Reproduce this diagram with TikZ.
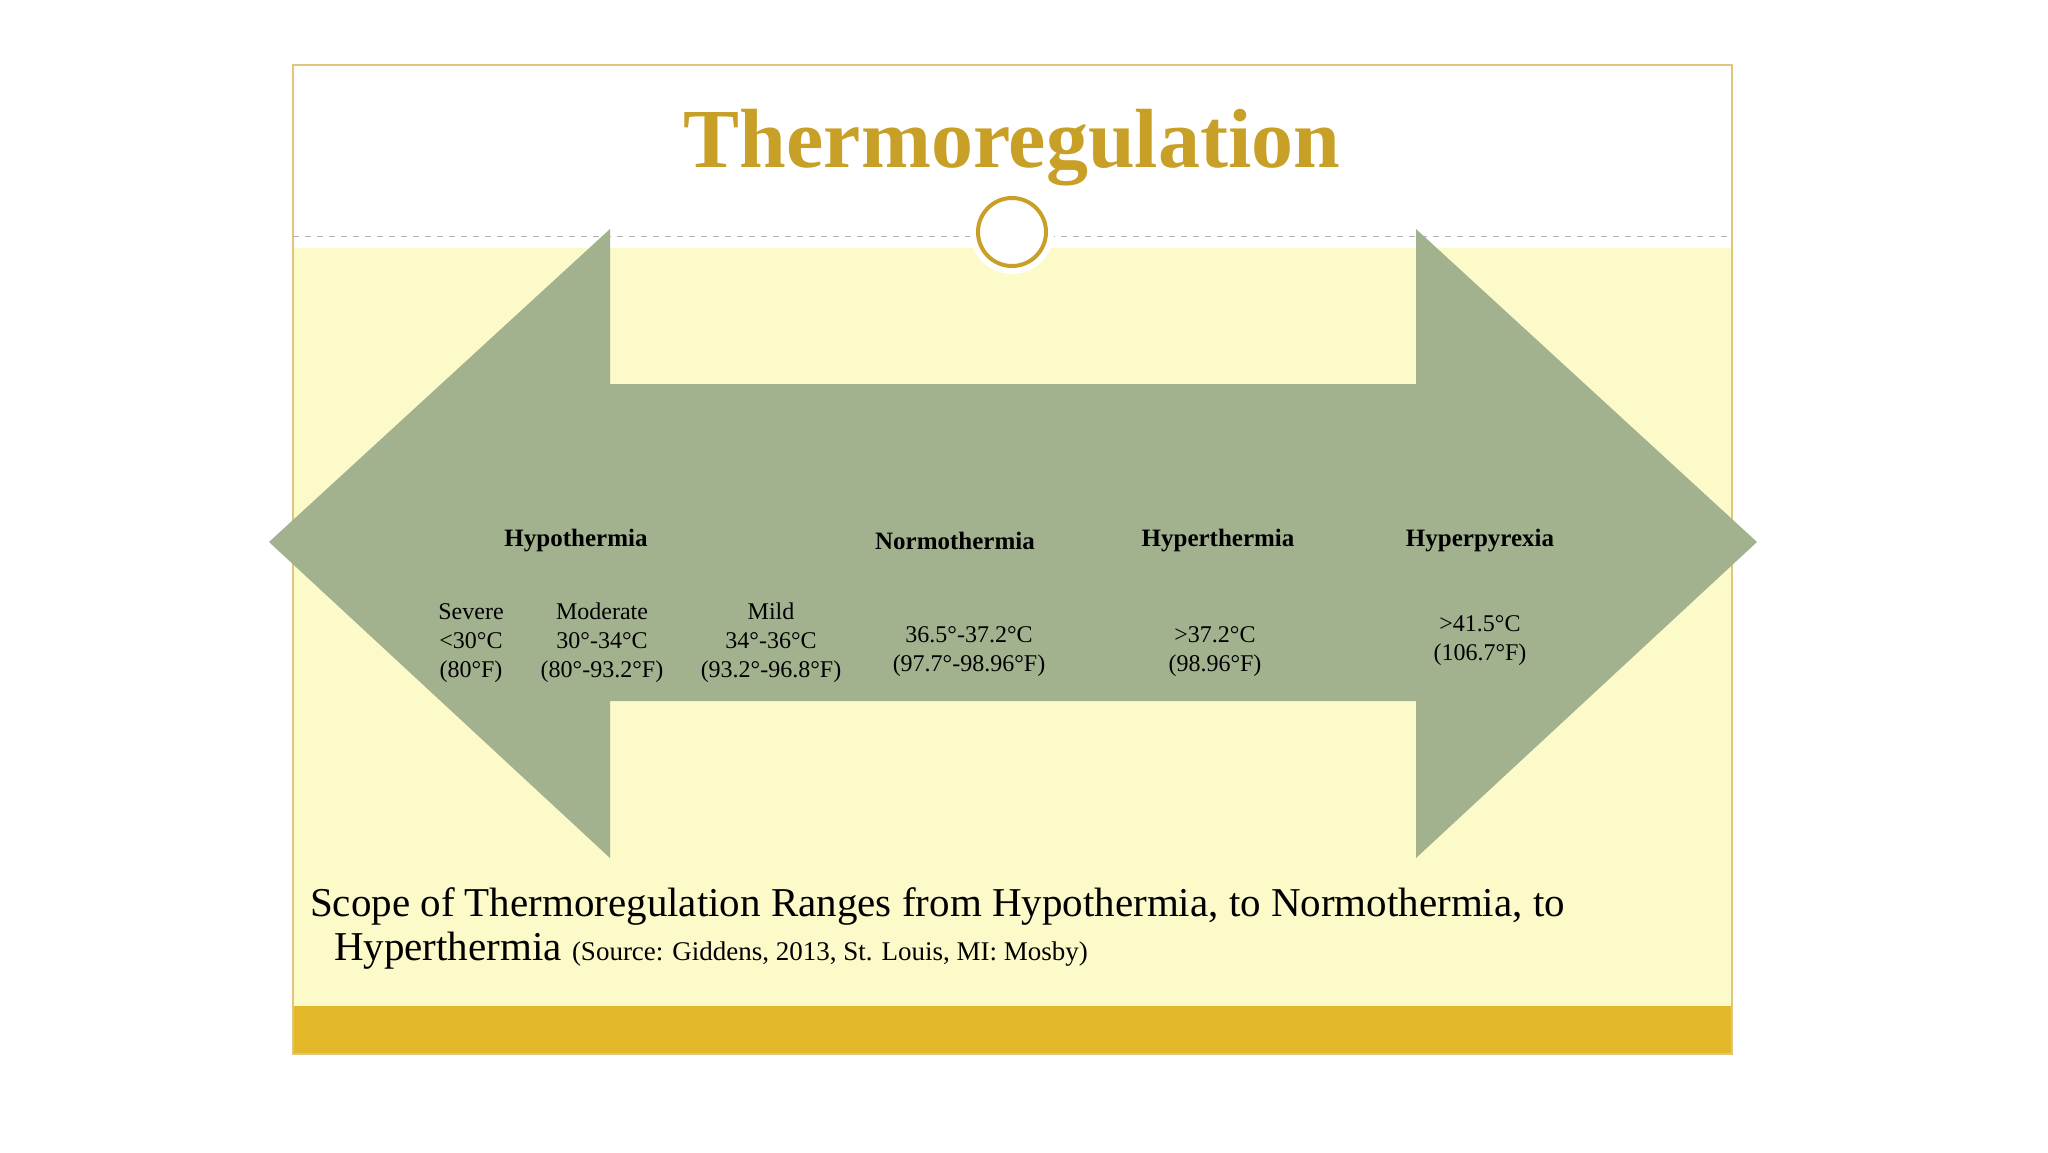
\documentclass[tikz,border=0pt]{standalone}
\usepackage{fontspec}
\setmainfont{Liberation Serif}
\definecolor{gold}{RGB}{200,160,40}
\definecolor{band}{RGB}{226,184,40}
\definecolor{bg}{RGB}{253,250,202}
\definecolor{arr}{RGB}{162,178,142}
\begin{document}
\begin{tikzpicture}[x=0.5pt,y=-0.5pt,
 lab/.style={font=\fontsize{12.5}{14}\selectfont\bfseries},
 val/.style={font=\fontsize{12}{14.5}\selectfont,align=center}]
\useasboundingbox (0,0) rectangle (2048,1152);
\fill[white] (0,0) rectangle (2048,1152);
\fill[bg] (293,248) rectangle (1732,1006);
\fill[band] (293,1006) rectangle (1732,1054);
\draw[gold!60,line width=0.6pt] (293,65) rectangle (1732,1054);
\draw[gray!60,dashed,line width=0.3pt] (293,236) -- (1732,236);
\node[font=\fontsize{42}{50}\selectfont\bfseries,text=gold] (title) at (1012,148) {Thermoregulation};
\fill[arr] (269,542) -- (610,229) -- (610,384) -- (1416,384) -- (1416,229) -- (1757,542) -- (1416,858) -- (1416,701) -- (610,701) -- (610,858) -- cycle;
\fill[white] (1012,232) circle (42);
\draw[gold,line width=2pt] (1012,232) circle (34);
\node[lab] (hypo) at (576,541) {Hypothermia};
\node[lab] (normo) at (955,541) {Normothermia};
\node[lab] (hyper) at (1218,541) {Hyperthermia};
\node[lab] (pyrex) at (1480,541) {Hyperpyrexia};
\node[val] (sev) at (471,643) {Severe\\<30°C\\(80°F)};
\node[val] (mod) at (602,643) {Moderate\\30°-34°C\\(80°-93.2°F)};
\node[val] (mild) at (771,643) {Mild\\34°-36°C\\(93.2°-96.8°F)};
\node[val] (nv) at (969,652) {36.5°-37.2°C\\(97.7°-98.96°F)};
\node[val] (hv) at (1215,652) {>37.2°C\\(98.96°F)};
\node[val] (pv) at (1480,641) {>41.5°C\\(106.7°F)};
\node[anchor=base west,font=\fontsize{20.5}{24}\selectfont] (cap1) at (303,916) {Scope of Thermoregulation Ranges from Hypothermia, to Normothermia, to};
\node[anchor=base west,font=\fontsize{20.5}{24}\selectfont] (cap2) at (327,960) {Hyperthermia \fontsize{13.5}{16}\selectfont (Source: Giddens, 2013, St. Louis, MI: Mosby)};
\end{tikzpicture}
\end{document}
